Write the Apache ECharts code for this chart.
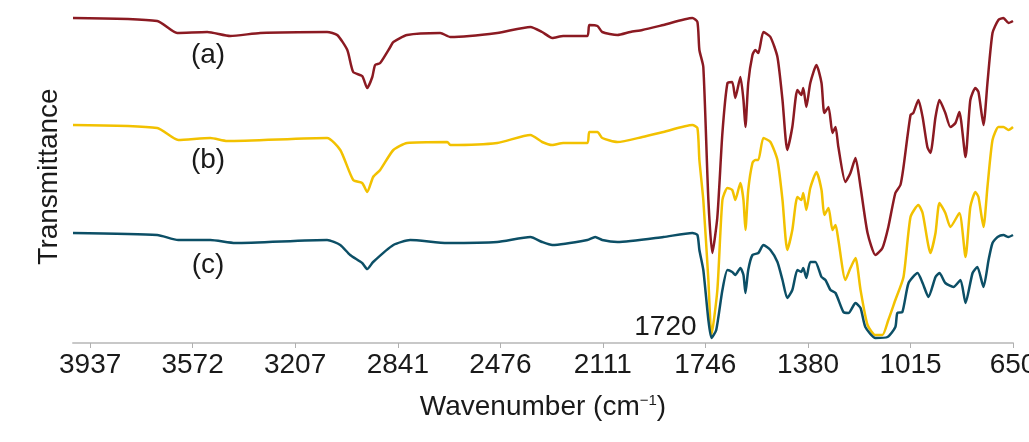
<!DOCTYPE html>
<html>
<head>
<meta charset="utf-8">
<script src="https://cdn.jsdelivr.net/npm/echarts@6/dist/echarts.min.js"></script>
<style>
  html, body { margin: 0; padding: 0; background: #fff; }
  #chart { width: 1029px; height: 442px; }
</style>
</head>
<body>
<div id="chart"></div>
<script>
// tick labels on the wavenumber axis
const tickValues = [3937, 3572, 3207, 2841, 2476, 2111, 1746, 1380, 1015, 650];

// (a) [wavenumber, offset transmittance]
const seriesA = [
  [3998, 325], [3698, 322], [3627, 310], [3520, 311], [3438, 307], [3331, 310], [3093, 311],
  [3057, 308], [3021, 293], [3000, 271], [2968, 267], [2950, 255], [2932, 266], [2922, 278],
  [2904, 280], [2868, 296], [2857, 301], [2808, 308], [2690, 310], [2654, 306], [2487, 310],
  [2369, 316], [2327, 311], [2291, 305], [2252, 307], [2166, 307], [2159, 318], [2130, 317],
  [2113, 311], [2059, 308], [2013, 311], [1970, 313], [1895, 318], [1792, 325], [1774, 321],
  [1767, 293], [1753, 276], [1735, 143], [1721, 90], [1703, 126], [1685, 210], [1667, 260],
  [1650, 261], [1639, 245], [1621, 266], [1610, 243], [1603, 216], [1593, 260], [1578, 288],
  [1568, 293], [1557, 290], [1539, 311], [1514, 306], [1489, 286], [1471, 243], [1454, 193],
  [1436, 216], [1418, 253], [1404, 248], [1397, 255], [1386, 236], [1372, 260], [1350, 278],
  [1332, 260], [1322, 230], [1307, 236], [1293, 210], [1282, 216], [1272, 196], [1247, 161],
  [1229, 170], [1211, 185], [1193, 156], [1168, 110], [1140, 88], [1115, 95], [1094, 116],
  [1069, 150], [1051, 158], [1040, 176], [1015, 228], [1005, 230], [987, 243], [972, 226],
  [955, 196], [944, 190], [926, 226], [912, 243], [891, 230], [873, 216], [855, 220], [841, 231],
  [819, 186], [802, 243], [784, 255], [773, 251], [755, 218], [741, 260], [723, 310], [702, 323],
  [684, 325], [666, 320], [650, 322]
];

// (b)
const seriesB = [
  [3998, 218], [3698, 215], [3623, 203], [3509, 205], [3449, 202], [3093, 205], [3046, 193],
  [3000, 163], [2968, 160], [2950, 151], [2929, 166], [2904, 173], [2857, 193], [2808, 200],
  [2665, 201], [2654, 198], [2487, 200], [2369, 208], [2327, 201], [2291, 198], [2252, 200],
  [2166, 200], [2159, 211], [2130, 211], [2113, 205], [2059, 201], [1970, 206], [1895, 211],
  [1792, 218], [1774, 215], [1767, 183], [1753, 143], [1735, 63], [1724, 8], [1703, 53],
  [1685, 143], [1667, 155], [1650, 153], [1639, 143], [1621, 160], [1610, 143], [1603, 113],
  [1593, 153], [1578, 180], [1568, 183], [1557, 183], [1539, 205], [1514, 201], [1489, 183],
  [1471, 143], [1454, 93], [1436, 113], [1418, 146], [1404, 143], [1397, 150], [1386, 133],
  [1372, 155], [1350, 171], [1332, 153], [1322, 128], [1307, 135], [1293, 113], [1282, 118],
  [1272, 103], [1247, 63], [1229, 75], [1211, 85], [1193, 53], [1168, 18], [1140, 8], [1115, 8],
  [1094, 23], [1069, 43], [1040, 66], [1015, 126], [987, 138], [972, 130], [944, 90], [926, 110],
  [912, 140], [891, 130], [873, 116], [841, 130], [819, 86], [802, 136], [784, 151], [773, 146],
  [755, 116], [741, 156], [723, 203], [702, 216], [684, 216], [666, 213], [650, 216]
];

// (c)
const seriesC = [
  [3998, 110], [3698, 108], [3623, 103], [3509, 103], [3420, 100], [3093, 103], [3046, 98],
  [3011, 88], [2968, 80], [2950, 74], [2929, 81], [2857, 98], [2797, 103], [2665, 100],
  [2487, 101], [2369, 106], [2327, 101], [2291, 98], [2166, 103], [2138, 106], [2113, 103],
  [2059, 101], [1895, 106], [1792, 110], [1774, 108], [1767, 93], [1753, 73], [1735, 23],
  [1724, 5], [1707, 13], [1685, 53], [1667, 73], [1650, 71], [1639, 68], [1621, 75], [1610, 68],
  [1603, 50], [1593, 73], [1578, 88], [1557, 90], [1539, 98], [1514, 93], [1489, 81], [1471, 63],
  [1454, 45], [1436, 53], [1418, 73], [1404, 71], [1397, 75], [1386, 65], [1372, 81], [1354, 81],
  [1332, 66], [1318, 63], [1300, 53], [1282, 50], [1254, 31], [1236, 30], [1211, 40], [1193, 35],
  [1176, 16], [1140, 5], [1097, 6], [1069, 16], [1062, 30], [1044, 31], [1022, 60], [990, 70],
  [972, 60], [951, 46], [926, 66], [912, 70], [891, 60], [862, 56], [837, 63], [819, 40],
  [794, 70], [777, 76], [755, 56], [737, 83], [723, 100], [705, 106], [684, 108], [666, 106],
  [650, 108]
];

// text annotations: [wavenumber, y, text]
const annotations = [
  [3517, 288, '(a)'],
  [3517, 183, '(b)'],
  [3517, 78, '(c)'],
  [1888, 16, '1720']
];

const chart = echarts.init(document.getElementById('chart'), null, { renderer: 'canvas' });

function line(name, data, color) {
  return {
    name: name,
    type: 'line',
    data: data,
    symbol: 'none',
    smooth: 0.2,
    lineStyle: { color: color, width: 2.5 },
    silent: true
  };
}

const font = 'Liberation Sans, Arial, sans-serif';

chart.setOption({
  animation: false,
  grid: { left: 73, right: 16, top: 10, bottom: 99, outerBoundsMode: 'none', containLabel: false },
  xAxis: {
    type: 'value',
    inverse: true,
    min: 650,
    max: 3998,
    name: 'Wavenumber (cm{sup|\u22121})',
    nameLocation: 'middle',
    nameGap: 50,
    nameTextStyle: {
      fontFamily: font, fontSize: 28, color: '#1a1a1a',
      rich: { sup: { fontFamily: font, fontSize: 15, color: '#1a1a1a', verticalAlign: 'top', padding: [0, 0, 14, 0] } }
    },
    axisLine: { lineStyle: { color: '#c8c8c8', width: 2 } },
    axisTick: { customValues: tickValues, length: 5, inside: false, lineStyle: { color: '#b0b0b0', width: 1 } },
    axisLabel: {
      customValues: tickValues,
      fontFamily: font, fontSize: 28, color: '#1a1a1a', margin: 8,
      formatter: v => String(v)
    },
    splitLine: { show: false }
  },
  yAxis: {
    type: 'value',
    min: 0,
    max: 333,
    name: 'Transmittance',
    nameLocation: 'middle',
    nameGap: 10,
    nameTextStyle: { fontFamily: font, fontSize: 28, color: '#1a1a1a' },
    axisLine: { show: false },
    axisTick: { show: false },
    axisLabel: { show: false },
    splitLine: { show: false }
  },
  series: [
    line('(a)', seriesA, '#8b1a22'),
    line('(b)', seriesB, '#f2c100'),
    line('(c)', seriesC, '#0c4f66'),
    {
      type: 'scatter',
      data: annotations,
      symbolSize: 0,
      silent: true,
      itemStyle: { opacity: 1 },
      label: {
        show: true,
        position: 'inside',
        formatter: p => p.data[2],
        fontFamily: font,
        fontSize: 28,
        color: '#1a1a1a'
      }
    }
  ]
});
</script>
</body>
</html>
